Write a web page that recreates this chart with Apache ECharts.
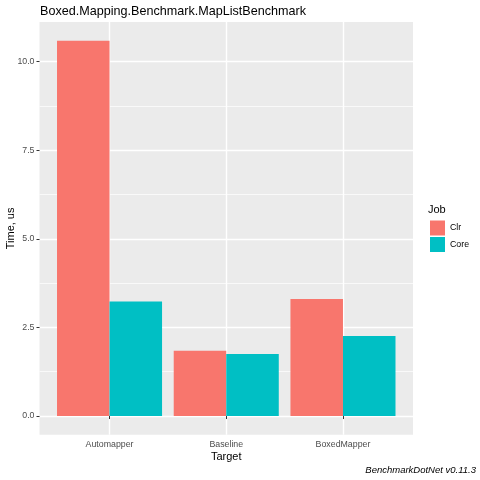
<!DOCTYPE html>
<html><head><meta charset="utf-8">
<script src="https://cdn.jsdelivr.net/npm/echarts@6/dist/echarts.min.js"></script>
<style>html,body{margin:0;padding:0;background:#fff}#c{width:480px;height:480px}</style>
</head><body><div id="c"></div>
<script>
const categories = ['Automapper', 'Baseline', 'BoxedMapper'];
const seriesNames = ['Clr', 'Core'];
const clrValues = [10.59, 1.84, 3.30];
const coreValues = [3.23, 1.75, 2.26];
const yTicks = [0, 2.5, 5, 7.5, 10];
const yMinorTicks = [1.25, 3.75, 6.25, 8.75];
const yMin = -0.53, yMax = 11.12;
const xMin = 0.4, xMax = 3.6;
const colors = ['#F8766D', '#00BFC4'];

const FONT = 'Liberation Sans, Arial, sans-serif';
const catPositions = categories.map((c, i) => i + 1);

// panel geometry
const pL = 39.5, pR = 413, pT = 22, pB = 434.8;
const unit = (pR - pL) / (xMax - xMin);
const barL = pL + (0.5 - xMin) * unit;
const barR = pL + (categories.length + 0.5 - xMin) * unit;

const chart = echarts.init(document.getElementById('c'), null, {renderer: 'canvas'});
chart.setOption({
  animation: false,
  backgroundColor: '#ffffff',
  textStyle: {fontFamily: FONT},
  title: [
    {text: 'Boxed.Mapping.Benchmark.MapListBenchmark', left: 40, top: 5, padding: 0,
     textStyle: {fontFamily: FONT, fontSize: 12.6, fontWeight: 'normal', color: '#000'}},
    {text: 'Job', left: 428, top: 204, padding: 0,
     textStyle: {fontFamily: FONT, fontSize: 11, fontWeight: 'normal', color: '#000'}},
    {text: 'BenchmarkDotNet v0.11.3', right: 4, top: 465, padding: 0,
     textStyle: {fontFamily: FONT, fontSize: 9.5, fontWeight: 'normal', fontStyle: 'italic', color: '#000'}}
  ],
  legend: {
    orient: 'vertical', left: 430, top: 220.5, padding: 0, itemWidth: 15, itemHeight: 15, itemGap: 1.5,
    icon: 'rect', data: seriesNames,
    textStyle: {fontFamily: FONT, fontSize: 8.8, color: '#000'}
  },
  grid: [
    {left: pL, top: pT, width: pR - pL, height: pB - pT, show: true,
     backgroundColor: '#EBEBEB', borderWidth: 0, containLabel: false, outerBoundsMode: 'none'},
    {left: barL, top: pT, width: barR - barL, height: pB - pT, show: false,
     containLabel: false, outerBoundsMode: 'none'}
  ],
  xAxis: [
    {type: 'value', gridIndex: 0, min: xMin, max: xMax,
     axisLine: {show: false}, axisLabel: {show: false},
     axisTick: {show: false, customValues: catPositions},
     splitLine: {show: true, lineStyle: {color: '#FFFFFF', width: 1.4}}},
    {type: 'category', gridIndex: 1, data: categories, boundaryGap: true,
     axisLine: {show: false},
     axisTick: {show: true, alignWithLabel: true, length: 3, lineStyle: {color: '#333333', width: 1}},
     axisLabel: {color: '#4D4D4D', fontSize: 8.8, fontFamily: FONT, margin: 5},
     splitLine: {show: false},
     name: 'Target', nameLocation: 'middle', nameGap: 16.5, nameMoveOverlap: false,
     nameTextStyle: {fontFamily: FONT, fontSize: 11, color: '#000'}}
  ],
  yAxis: [
    {type: 'value', gridIndex: 0, min: yMin, max: yMax,
     axisLine: {show: false},
     axisTick: {show: true, length: 3, customValues: yTicks, lineStyle: {color: '#333333', width: 1}},
     axisLabel: {customValues: yTicks, color: '#4D4D4D', fontSize: 8.8, fontFamily: FONT, margin: 5,
       formatter: v => Number(v).toFixed(1)},
     splitLine: {show: true, lineStyle: {color: '#FFFFFF', width: 1.4}},
     name: 'Time, us', nameLocation: 'middle', nameGap: 23, nameRotate: 90, nameMoveOverlap: false,
     nameTextStyle: {fontFamily: FONT, fontSize: 11, color: '#000'}},
    {type: 'value', gridIndex: 0, min: yMin, max: yMax,
     axisLine: {show: false}, axisLabel: {show: false},
     axisTick: {show: false, customValues: yMinorTicks},
     splitLine: {show: true, lineStyle: {color: '#FFFFFF', width: 0.7}}},
    {type: 'value', gridIndex: 1, min: yMin, max: yMax, show: false,
     splitLine: {show: false}}
  ],
  series: [
    {name: seriesNames[0], type: 'bar', xAxisIndex: 1, yAxisIndex: 2, data: clrValues,
     itemStyle: {color: colors[0]}, barGap: '0%', barCategoryGap: '10%'},
    {name: seriesNames[1], type: 'bar', xAxisIndex: 1, yAxisIndex: 2, data: coreValues,
     itemStyle: {color: colors[1]}, barGap: '0%', barCategoryGap: '10%'}
  ]
});
</script>
</body></html>
